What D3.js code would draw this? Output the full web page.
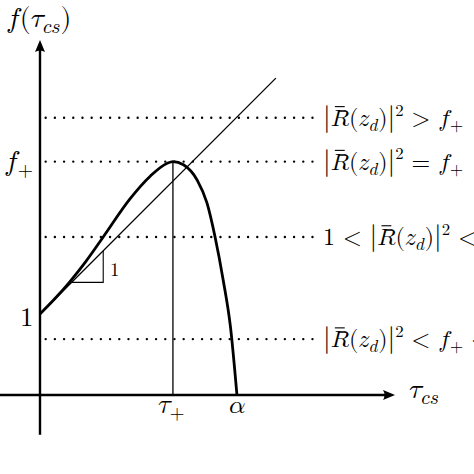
<!DOCTYPE html>
<html>
<head>
<meta charset="utf-8">
<script src="https://cdn.jsdelivr.net/npm/d3@7"></script>
<style>
  body { margin: 0; background: #fff; }
</style>
</head>
<body>
<div id="chart"></div>
<script>
// curve f(tau)
const tauPts = [0, 0.185, 0.37, 0.56, 0.78, 1.11, 1.36, 1.57, 1.64, 1.77, 1.94, 2.06, 2.16, 2.26, 2.35, 2.43];
const fPts = [1.0, 1.19, 1.40, 1.64, 1.95, 2.42, 2.70, 2.86, 2.88, 2.84, 2.65, 2.37, 1.95, 1.42, 0.84, 0];

const tauPlus = 1.64;
const fPlus = 2.88;
const alpha = 2.43;

// horizontal dotted levels and their labels (math italic code points)
const levels = [3.42, 2.88, 1.95, 0.69];
const Rbar = [["|", "bar"], ["\u{1D445}\u0304", "rbar"], ["(", "r"], ["\u{1D467}", "r"], ["\u{1D451}", "sub"], [")", "r"], ["|", "bar"], ["2", "sup"]];
const levelLabels = [
    Rbar.concat([[" > ", "r"], ["\u{1D453}", "r"], ["+", "sub"]]),
    Rbar.concat([[" = ", "r"], ["\u{1D453}", "r"], ["+", "sub"]]),
    [["1 < ", "r"]].concat(Rbar, [[" < ", "r"], ["\u{1D453}", "r"], ["+", "sub"]]),
    Rbar.concat([[" < ", "r"], ["\u{1D453}", "r"], ["+", "sub"], [" < 1", "r"]])
];

const width = 474, height = 474;
const mathFont = "'Latin Modern Math', 'Liberation Serif', serif";

const svg = d3.select("#chart")
    .append("svg")
    .attr("width", width)
    .attr("height", height);

var x = d3.scaleLinear()
    .domain([0, 4.38])
    .range([40, 395]);

var y = d3.scaleLinear()
    .domain([0, 4.38])
    .range([395, 40]);

// writes a small piece of math as tspans
function mathText(px, py, segs, size) {
    const t = svg.append("text")
        .attr("x", px)
        .attr("y", py)
        .attr("font-family", mathFont)
        .attr("font-size", size)
        .attr("fill", "#000")
        .attr("xml:space", "preserve")
        .style("white-space", "pre");
    let off = 0;
    segs.forEach(function(s) {
        const kind = s[1];
        let target = 0, fs = size;
        if (kind === "sub") { target = size * 0.22; fs = size * 0.7; }
        if (kind === "sup") { target = -size * 0.42; fs = size * 0.7; }
        if (kind === "bar") { fs = size * 1.15; }
        const ts = t.append("tspan")
            .attr("dy", target - off)
            .attr("font-size", fs)
            .text(s[0]);
        off = target;
        // the accent bar over R
        if (kind === "rbar") {
            const b = ts.node().getBBox();
            svg.append("line")
                .attr("x1", b.x + b.width * 0.22)
                .attr("x2", b.x + b.width * 0.74)
                .attr("y1", py - size * 0.8)
                .attr("y2", py - size * 0.8)
                .attr("stroke", "#000")
                .attr("stroke-width", 1.1);
        }
    });
    return t;
}

// dotted levels
svg.append("g")
    .selectAll("line")
    .data(levels)
    .enter()
    .append("line")
    .attr("x1", x(0.07))
    .attr("x2", x(3.4))
    .attr("y1", d => y(d))
    .attr("y2", d => y(d))
    .attr("stroke", "#000")
    .attr("stroke-width", 2.4)
    .attr("stroke-linecap", "round")
    .attr("stroke-dasharray", "0 9.2");

levels.forEach(function(d, i) {
    mathText(323, y(d) + 8, levelLabels[i], 24);
});

// tangent line with slope 1
svg.append("line")
    .attr("x1", x(0))
    .attr("y1", y(1))
    .attr("x2", x(2.91))
    .attr("y2", y(3.91))
    .attr("stroke", "#000")
    .attr("stroke-width", 1.3);

// slope triangle
svg.append("path")
    .attr("d", d3.line()([[x(0.39), y(1.39)], [x(0.78), y(1.39)], [x(0.78), y(1.78)]]))
    .attr("fill", "none")
    .attr("stroke", "#000")
    .attr("stroke-width", 1.1);

mathText(x(0.865), y(1.47), [["1", "r"]], 19);

// tau+ vertical
svg.append("line")
    .attr("x1", x(tauPlus))
    .attr("x2", x(tauPlus))
    .attr("y1", y(0))
    .attr("y2", y(fPlus))
    .attr("stroke", "#000")
    .attr("stroke-width", 1.3);

// the curve
const curve = d3.line()
    .x((d, i) => x(tauPts[i]))
    .y(d => y(d))
    .curve(d3.curveMonotoneX);

svg.append("path")
    .attr("d", curve(fPts))
    .attr("fill", "none")
    .attr("stroke", "#000")
    .attr("stroke-width", 2.8);

// axes
svg.append("line")
    .attr("x1", x(-0.5))
    .attr("x2", x(4.3))
    .attr("y1", y(0))
    .attr("y2", y(0))
    .attr("stroke", "#000")
    .attr("stroke-width", 2.4);

svg.append("line")
    .attr("x1", x(0))
    .attr("x2", x(0))
    .attr("y1", y(-0.49))
    .attr("y2", y(4.3))
    .attr("stroke", "#000")
    .attr("stroke-width", 2.4);

// arrow heads
const xt = x(4.38), yt = y(0);
svg.append("path")
    .attr("d", "M" + xt + "," + yt + " L" + (xt - 12) + "," + (yt - 5) + " Q" + (xt - 9) + "," + yt + " " + (xt - 12) + "," + (yt + 5) + " Z");
const xa = x(0), ya = y(4.38);
svg.append("path")
    .attr("d", "M" + xa + "," + ya + " L" + (xa - 5) + "," + (ya + 12) + " Q" + xa + "," + (ya + 9) + " " + (xa + 5) + "," + (ya + 12) + " Z");

// axis labels
mathText(6, 27, [["\u{1D453}", "r"], ["(", "r"], ["\u{1D70F}", "r"], ["\u{1D450}\u{1D460}", "sub"], [")", "r"]], 28);
mathText(4, 170, [["\u{1D453}", "r"], ["+", "sub"]], 28);
mathText(20, 326, [["1", "r"]], 27);
mathText(x(tauPlus) - 15, 413, [["\u{1D70F}", "r"], ["+", "sub"]], 27);
mathText(x(alpha) - 8, 413, [["\u{1D6FC}", "r"]], 26);
mathText(409, 398, [["\u{1D70F}", "r"], ["\u{1D450}\u{1D460}", "sub"]], 28);
</script>
</body>
</html>
